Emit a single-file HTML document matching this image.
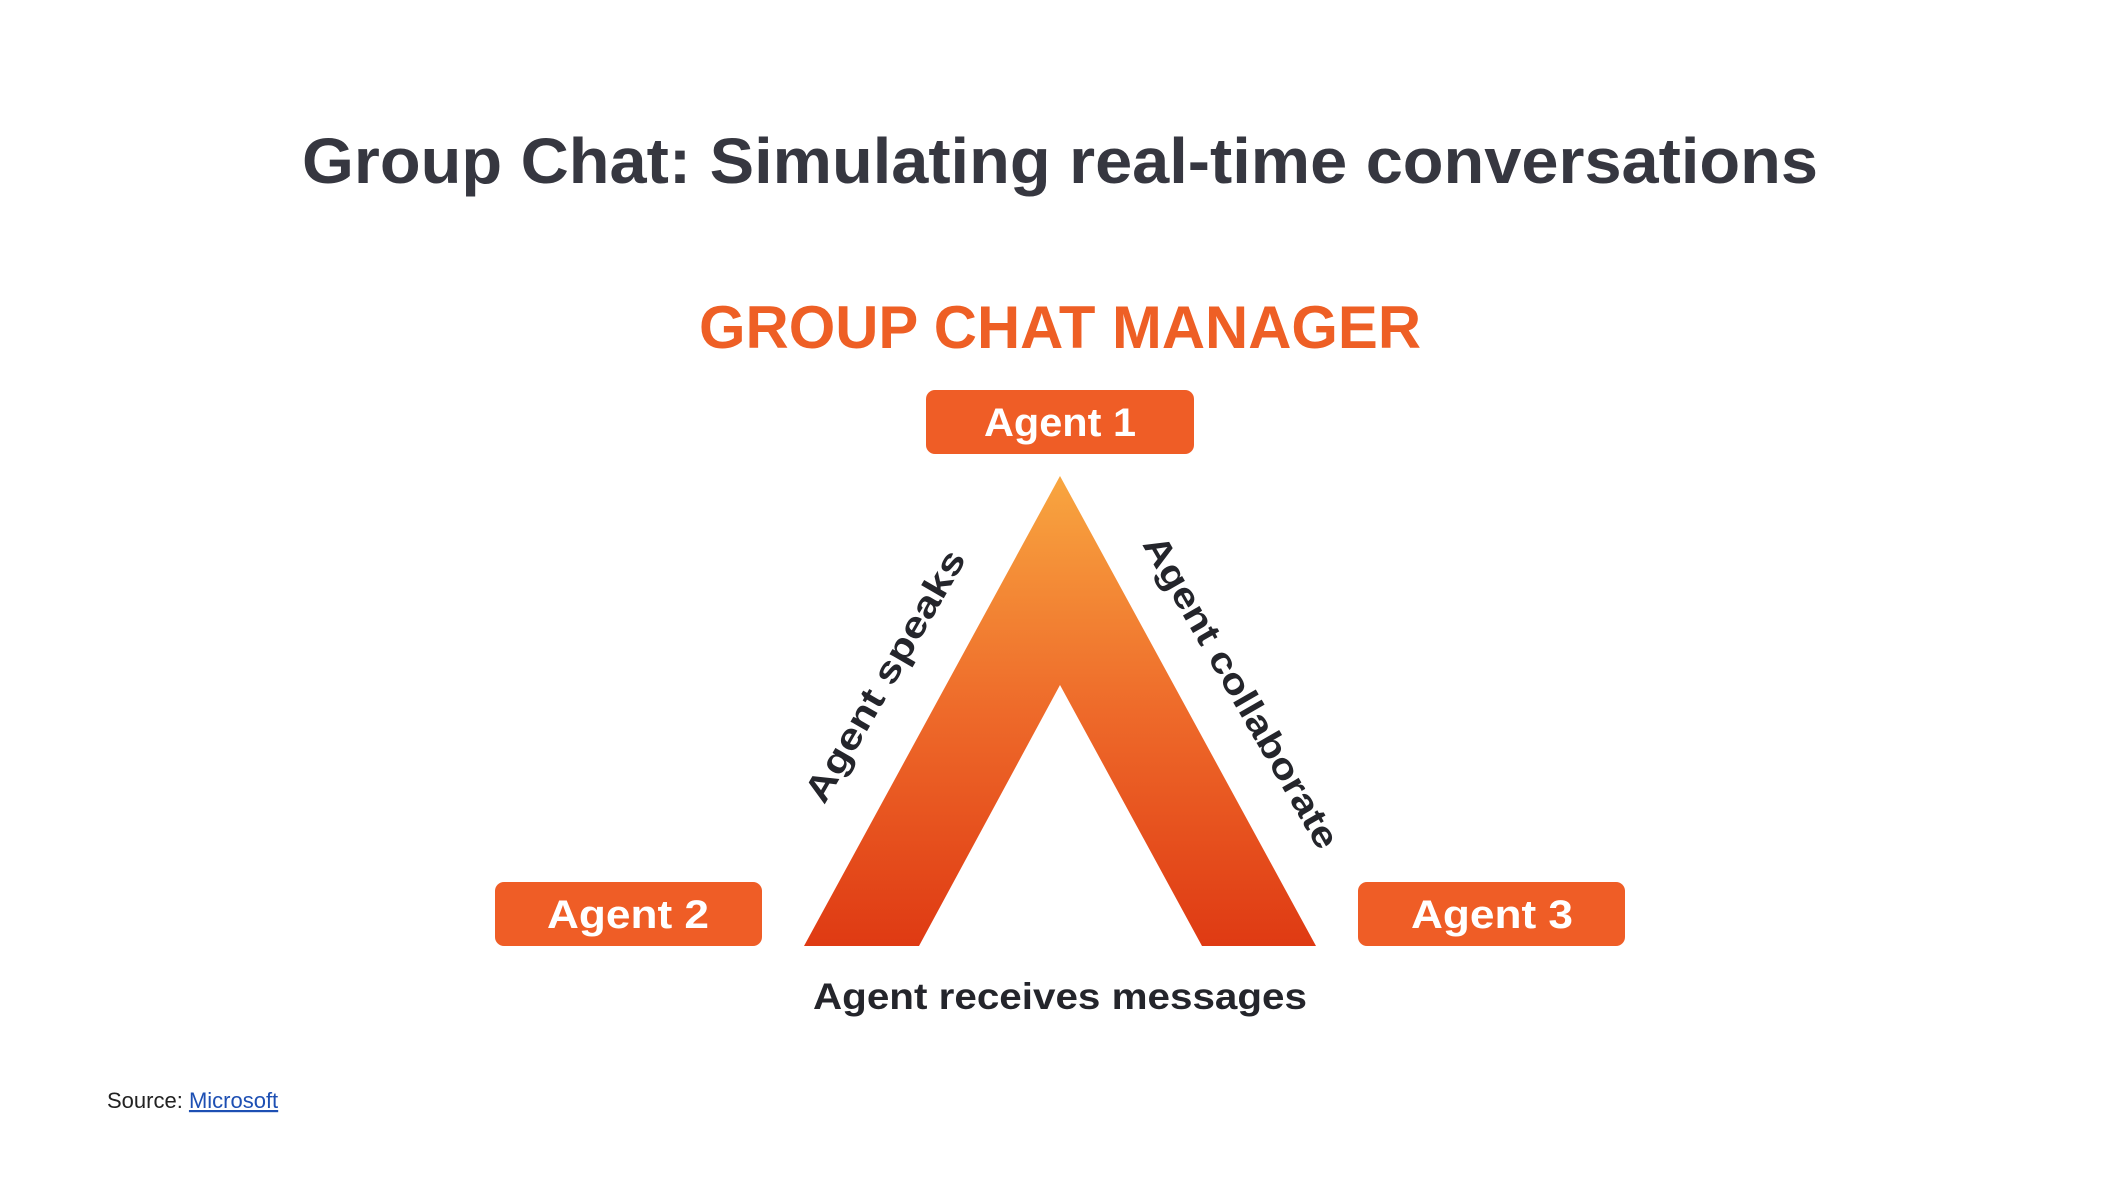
<!DOCTYPE html>
<html><head><meta charset="utf-8"><style>
html,body{margin:0;padding:0;background:#fff;}
svg{display:block;}
</style></head><body>
<svg width="2120" height="1192" viewBox="0 0 2120 1192" xmlns="http://www.w3.org/2000/svg" font-family="Liberation Sans, sans-serif">
<defs>
<linearGradient id="g" x1="0" y1="480" x2="0" y2="950" gradientUnits="userSpaceOnUse">
<stop offset="0" stop-color="#f8a640"/>
<stop offset="0.5" stop-color="#ee6a2a"/>
<stop offset="1" stop-color="#df3a13"/>
</linearGradient>
</defs>
<g transform="translate(-5,-4)">
<text x="1065" y="187" text-anchor="middle" font-size="64" font-weight="bold" fill="#363740" textLength="1516" lengthAdjust="spacingAndGlyphs">Group Chat: Simulating real-time conversations</text>
<text x="1065" y="352" text-anchor="middle" font-size="60" font-weight="bold" fill="#ee5f25" textLength="722" lengthAdjust="spacingAndGlyphs">GROUP CHAT MANAGER</text>
<rect x="931" y="394" width="268" height="64" rx="9" fill="#ef5d26"/>
<rect x="500" y="886" width="267" height="64" rx="9" fill="#ef5d26"/>
<rect x="1363" y="886" width="267" height="64" rx="9" fill="#ef5d26"/>
<text x="1065" y="440" text-anchor="middle" font-size="40" font-weight="bold" fill="#fff" textLength="152" lengthAdjust="spacingAndGlyphs">Agent 1</text>
<text x="633" y="932" text-anchor="middle" font-size="40" font-weight="bold" fill="#fff" textLength="162" lengthAdjust="spacingAndGlyphs">Agent 2</text>
<text x="1497" y="932" text-anchor="middle" font-size="40" font-weight="bold" fill="#fff" textLength="162" lengthAdjust="spacingAndGlyphs">Agent 3</text>
<polygon points="1065,480 1321,950 1207,950 1065,689 924,950 809,950" fill="url(#g)"/>
<text transform="translate(890,680) rotate(-60)" x="0" y="12" text-anchor="middle" font-size="36" font-weight="bold" fill="#24252b" textLength="285" lengthAdjust="spacingAndGlyphs">Agent  speaks</text>
<text transform="translate(1246,696) rotate(60)" x="0" y="12" text-anchor="middle" font-size="36" font-weight="bold" fill="#24252b" textLength="355" lengthAdjust="spacingAndGlyphs">Agent collaborate</text>
<text x="1065" y="1013" text-anchor="middle" font-size="37" font-weight="bold" fill="#24252b" textLength="494" lengthAdjust="spacingAndGlyphs">Agent receives messages</text>
<text x="112" y="1112" font-size="22" fill="#222">Source: <tspan fill="#1d4fb3" text-decoration="underline">Microsoft</tspan></text>
</g>
</svg>
</body></html>
